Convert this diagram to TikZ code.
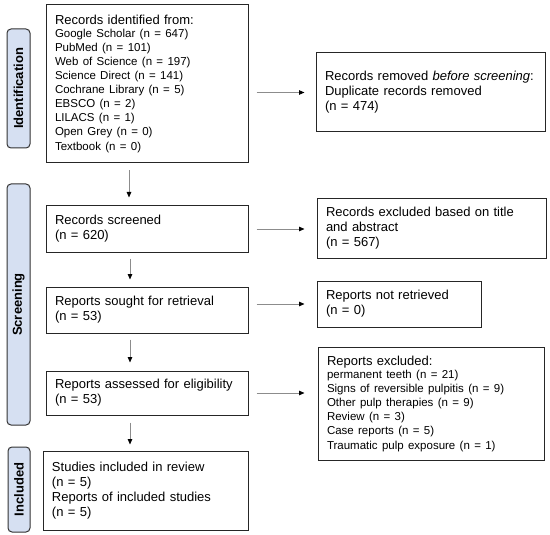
\documentclass[tikz,border=0pt]{standalone}
\usepackage{fontspec}
\setmainfont{Liberation Sans}
\usetikzlibrary{arrows.meta}
\definecolor{tabfill}{RGB}{214,224,242}
\newcommand{\mainsz}{\fontsize{13}{15}\selectfont}
\newcommand{\listsz}{\fontsize{11.5}{14}\selectfont}
\tikzset{
  box/.style={draw=black!85, line width=1pt, inner xsep=9pt, inner ysep=0pt, align=left, font=\mainsz},
  tab/.style={draw=black!80, line width=1pt, fill=tabfill, rounded corners=4pt, inner sep=0pt, font=\bfseries\mainsz},
  conn/.style={draw=black!45, line width=0.9pt, -{Triangle[length=5.5pt,width=4.5pt,color=black]}}
}
\begin{document}
\begin{tikzpicture}[x=1pt,y=-1pt]
\useasboundingbox (0,0) rectangle (550,535);
% phase tabs
\node[tab, minimum width=23, minimum height=119] (idtab) at (18.5,88.5) {};
\node[rotate=90, font=\bfseries\mainsz] (idlab) at (idtab.center) {Identification};
\node[tab, minimum width=23, minimum height=241] (scrtab) at (18.5,304.5) {};
\node[rotate=90, font=\bfseries\mainsz] (scrlab) at (scrtab.center) {Screening};
\node[tab, minimum width=22, minimum height=85] (incltab) at (19,489.5) {};
\node[rotate=90, font=\bfseries\mainsz] (incllab) at (incltab.center) {Included};
% left column
\node[box, text width=184, minimum height=158] (id) at (147,84) {Records identified from:\\[-1pt]
{\listsz Google Scholar (n = 647)\\ PubMed (n = 101)\\ Web of Science (n = 197)\\ Science Direct (n = 141)\\ Cochrane Library (n = 5)\\ EBSCO (n = 2)\\ LILACS (n = 1)\\ Open Grey (n = 0)\\ Textbook (n = 0)}};
\node[box, text width=184, minimum height=46] (scr) at (147,229) {Records screened\\ (n = 620)};
\node[box, text width=184, minimum height=46] (sought) at (147,310) {Reports sought for retrieval\\ (n = 53)};
\node[box, text width=184, minimum height=44] (assess) at (147,393) {Reports assessed for eligibility\\ (n = 53)};
\node[box, text width=187, minimum height=79] (incl) at (145.5,490.5) {Studies included in review\\ (n = 5)\\ Reports of included studies\\ (n = 5)};
% right column
\node[box, text width=211, minimum height=79] (dup) at (430.5,92.5) {Records removed \textit{before screening}:\\ Duplicate records removed\\ (n = 474)};
\node[box, text width=211, minimum height=59] (exc1) at (431.5,228.5) {Records excluded based on title\\ and abstract\\ (n = 567)};
\node[box, text width=146, minimum height=46] (notret) at (399,304) {Reports not retrieved\\ (n = 0)};
\node[box, text width=208, minimum height=113] (exc2) at (431,403.5) {Reports excluded:\\[-1pt]
{\listsz permanent teeth (n = 21)\\ Signs of reversible pulpitis (n = 9)\\ Other pulp therapies (n = 9)\\ Review (n = 3)\\ Case reports (n = 5)\\ Traumatic pulp exposure (n = 1)}};
% vertical connectors
\draw[conn, shorten <=7pt, shorten >=8pt] ([xshift=-18pt]id.south) -- ([xshift=-18pt]id.south |- scr.north);
\draw[conn, shorten <=6pt, shorten >=7pt] ([xshift=-17pt]scr.south) -- ([xshift=-17pt]scr.south |- sought.north);
\draw[conn, shorten <=6pt, shorten >=8pt] ([xshift=-17pt]sought.south) -- ([xshift=-17pt]sought.south |- assess.north);
\draw[conn, shorten <=7pt, shorten >=6pt] ([xshift=-17pt]assess.south) -- ([xshift=-17pt]assess.south |- incl.north);
% horizontal connectors
\draw[conn, shorten <=8pt, shorten >=11pt] (id.east |- dup.west) -- (dup.west);
\draw[conn, shorten <=8pt, shorten >=12pt] (scr.east) -- (scr.east -| exc1.west);
\draw[conn, shorten <=8pt, shorten >=12pt] (sought.east |- notret.west) -- (notret.west);
\draw[conn, shorten <=8pt, shorten >=13pt] (assess.east) -- (assess.east -| exc2.west);
\end{tikzpicture}
\end{document}
